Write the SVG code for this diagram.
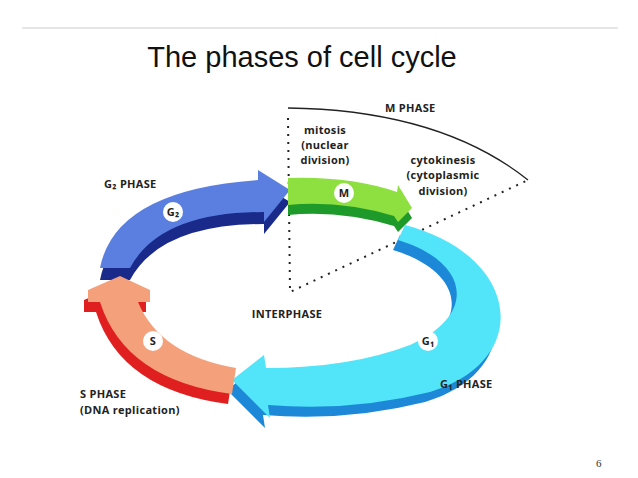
<svg xmlns="http://www.w3.org/2000/svg" width="638" height="478" viewBox="0 0 638 478">
<style>
.t{font-family:"Open Sans","Liberation Sans",sans-serif;font-size:11px;font-weight:bold;fill:#222;letter-spacing:0.3px}
.c{text-anchor:middle}
</style>
<rect width="638" height="478" fill="#fff"/>
<line x1="22" y1="28" x2="618" y2="28" stroke="#ccc" stroke-width="1"/>
<text x="302" y="67" text-anchor="middle" font-family="Liberation Sans,Arial,sans-serif" font-size="29" fill="#111">The phases of cell cycle</text>
<g id="frame">
<path d="M288,108 Q440,110 528,180" fill="none" stroke="#222" stroke-width="1.3"/>
<path d="M288,118 L290,292 L528,180" fill="none" stroke="#222" stroke-width="2" stroke-dasharray="2,6"/>
</g>
<g id="G2">
<path transform="translate(0,12)" d="M100,268 Q115,190 258,180 L258,170 L290,190 L264,222 L264,212 Q160,212 130,268 Z" fill="#1a2a8a"/>
<path d="M100,268 Q115,190 258,180 L258,170 L290,190 L264,222 L264,212 Q160,212 130,268 Z" fill="#5a7fe0"/>
<circle cx="173" cy="212" r="10" fill="#fff"/><text class="t c" x="173" y="216">G₂</text>
</g>
<g id="M">
<path transform="translate(0,10)" d="M288,178 Q350,176 397,192 L398,185 L412,208 L398,222 L394,216 Q340,200 288,205 Z" fill="#1e9a2a"/>
<path d="M288,178 Q350,176 397,192 L398,185 L412,208 L398,222 L394,216 Q340,200 288,205 Z" fill="#8ee040"/>
<circle cx="344" cy="193" r="10" fill="#fff"/><text class="t c" x="344" y="197">M</text>
</g>
<g id="G1">
<path transform="translate(-5,10)" d="M405,225 C520,255 535,360 430,392 Q350,412 268,405 L270,418 L232,380 L264,355 L266,368 Q350,368 410,345 C478,315 470,262 398,240 Z" fill="#1e88d8"/>
<path d="M405,225 C520,255 535,360 430,392 Q350,412 268,405 L270,418 L232,380 L264,355 L266,368 Q350,368 410,345 C478,315 470,262 398,240 Z" fill="#52e4f8"/>
<circle cx="428" cy="341" r="10" fill="#fff"/><text class="t c" x="428" y="345">G₁</text>
</g>
<g id="S">
<path transform="translate(-4,10)" d="M236,368 Q160,355 138,302 L150,302 L150,290 L120,276 L88,290 L88,302 L100,302 Q125,380 232,394 Z" fill="#e02020"/>
<path d="M236,368 Q160,355 138,302 L150,302 L150,290 L120,276 L88,290 L88,302 L100,302 Q125,380 232,394 Z" fill="#f4a07a"/>
<circle cx="153" cy="341" r="10" fill="#fff"/><text class="t c" x="153" y="345">S</text>
</g>
<g id="labels">
<text class="t" x="385" y="112">M PHASE</text>
<text class="t c" x="325" y="134">mitosis</text>
<text class="t c" x="325" y="149">(nuclear</text>
<text class="t c" x="325" y="164">division)</text>
<text class="t c" x="443" y="164">cytokinesis</text>
<text class="t c" x="443" y="179">(cytoplasmic</text>
<text class="t c" x="443" y="195">division)</text>
<text class="t" x="104" y="188">G₂ PHASE</text>
<text class="t c" x="287" y="318">INTERPHASE</text>
<text class="t" x="440" y="388">G₁ PHASE</text>
<text class="t" x="80" y="398">S PHASE</text>
<text class="t" x="80" y="414">(DNA replication)</text>
<text x="596" y="467" font-family="Liberation Serif,serif" font-size="11" fill="#333">6</text>
</g>
</svg>
